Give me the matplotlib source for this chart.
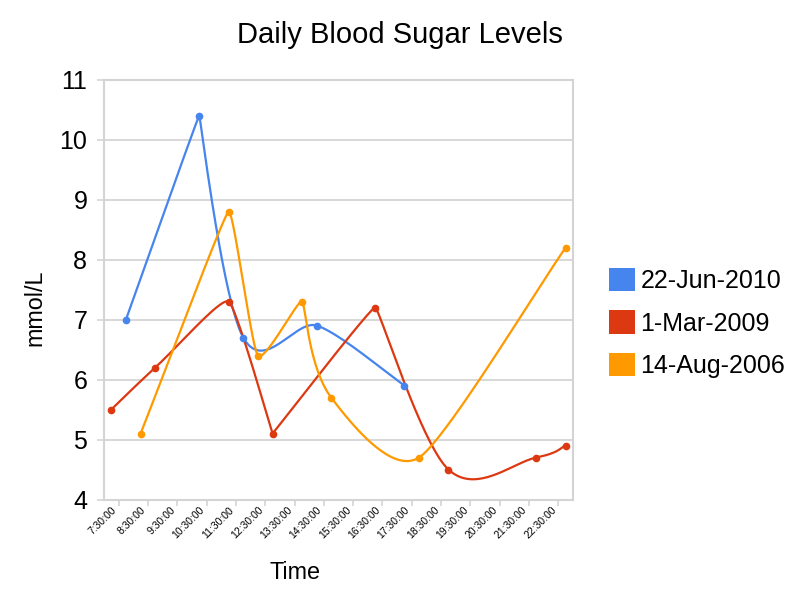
import numpy as np
from matplotlib import pyplot as plt
from matplotlib.patches import Patch

# Строки таблицы (каждые полчаса), подписан каждый второй
times = ['7:30:00', '8:00:00', '8:30:00', '9:00:00', '9:30:00', '10:00:00',
         '10:30:00', '11:00:00', '11:30:00', '12:00:00', '12:30:00', '13:00:00',
         '13:30:00', '14:00:00', '14:30:00', '15:00:00', '15:30:00', '16:00:00',
         '16:30:00', '17:00:00', '17:30:00', '18:00:00', '18:30:00', '19:00:00',
         '19:30:00', '20:00:00', '20:30:00', '21:00:00', '21:30:00', '22:00:00',
         '22:30:00', '23:00:00']

jun2010_times = ['8:00:00', '10:30:00', '12:00:00', '14:30:00', '17:30:00']
jun2010_vals = [7.0, 10.4, 6.7, 6.9, 5.9]

mar2009_times = ['7:30:00', '9:00:00', '11:30:00', '13:00:00', '16:30:00',
                 '19:00:00', '22:00:00', '23:00:00']
mar2009_vals = [5.5, 6.2, 7.3, 5.1, 7.2, 4.5, 4.7, 4.9]

aug2006_times = ['8:30:00', '11:30:00', '12:30:00', '14:00:00', '15:00:00',
                 '18:00:00', '23:00:00']
aug2006_vals = [5.1, 8.8, 6.4, 7.3, 5.7, 4.7, 8.2]

series = [
    ('22-Jun-2010', jun2010_times, jun2010_vals, '#4684ee'),
    ('1-Mar-2009', mar2009_times, mar2009_vals, '#dc3912'),
    ('14-Aug-2006', aug2006_times, aug2006_vals, '#ff9900'),
]

grid_color = '#d4d4d4'
plt.rcParams['font.family'] = ['Liberation Sans', 'DejaVu Sans']


def smooth(xs, ys, k=0.2, n=40):
    # сглаживание кривыми Безье; на острых пиках касательная почти нулевая
    pts = np.column_stack([xs, ys]).astype(float)
    m = len(pts)
    tang = np.zeros_like(pts)
    for i in range(m):
        p0 = pts[max(i - 1, 0)]
        p2 = pts[min(i + 1, m - 1)]
        d = abs(p2[1] - p0[1])
        s = abs(pts[i][1] - p0[1]) + abs(p2[1] - pts[i][1])
        r = d / s if s > 0 else 1.0
        tang[i] = (p2 - p0) * k * r
    out = [pts[:1]]
    t = np.linspace(0, 1, n)[1:, None]
    for i in range(m - 1):
        p1, p2 = pts[i], pts[i + 1]
        c1 = p1 + tang[i]
        c2 = p2 - tang[i + 1]
        seg = ((1 - t) ** 3) * p1 + 3 * ((1 - t) ** 2) * t * c1 \
            + 3 * (1 - t) * t ** 2 * c2 + t ** 3 * p2
        out.append(seg)
    res = np.vstack(out)
    return res[:, 0], res[:, 1]


fig = plt.figure(figsize=(8, 6), dpi=100)
ax = fig.add_axes([104 / 800, 100.5 / 600, 469 / 800, 420 / 600])

for name, ts, vals, color in series:
    xs = [times.index(tt) for tt in ts]
    sx, sy = smooth(xs, vals)
    ax.plot(sx, sy, color=color, lw=1.6, solid_capstyle='round', zorder=3)
    ax.plot(xs, vals, 'o', color=color, ms=4.5, zorder=4)

ax.set_xlim(-0.5, len(times) - 0.5)
ax.set_ylim(4, 11)
ax.set_yticks(range(4, 12))
ax.grid(axis='y', color=grid_color, lw=1.3)
ax.set_axisbelow(True)
for sp in ax.spines.values():
    sp.set_color(grid_color)
    sp.set_linewidth(1.5)

ax.set_xticks(range(0, len(times), 2), times[::2], rotation=45,
              ha='right', va='top', rotation_mode='anchor')
ax.set_xticks(np.arange(0.5, len(times) - 1, 2), minor=True)
ax.tick_params(axis='x', which='major', length=0, pad=4, labelsize=7.5)
ax.tick_params(axis='x', which='minor', length=4, color=grid_color, width=1.2)
ax.tick_params(axis='y', length=5, color=grid_color, width=1.2, pad=7,
               labelsize=18)

fig.text(0.5, 1 - 43 / 600, 'Daily Blood Sugar Levels', fontsize=21,
         ha='center', va='baseline')
fig.text(295 / 800, 1 - 579 / 600, 'Time', fontsize=16.8,
         ha='center', va='baseline')
fig.text(35 / 800, 1 - 308 / 600, 'mmol/L', fontsize=16.8, rotation=90,
         ha='center', va='center')

handles = [Patch(facecolor=c, edgecolor='none') for _, _, _, c in series]
fig.legend(handles, [s[0] for s in series], loc='center left',
           bbox_to_anchor=(609 / 800, 1 - 323 / 600), frameon=False,
           fontsize=18, handlelength=1.05, handleheight=1.05,
           handletextpad=0.2, labelspacing=0.7, borderpad=0,
           borderaxespad=0)

fig.savefig('out.png', dpi=100)
